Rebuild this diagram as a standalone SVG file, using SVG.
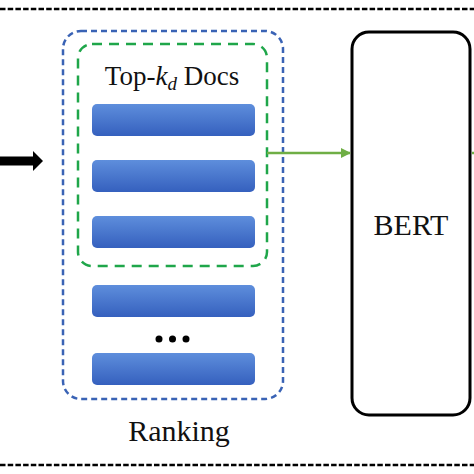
<svg xmlns="http://www.w3.org/2000/svg" width="474" height="474" viewBox="0 0 474 474">
<style>
.sep{stroke:#000;stroke-width:2.5;stroke-dasharray:5.5,2.2;fill:none}
.bar{fill:url(#bg)}
.lbl{font-family:"Liberation Serif",serif;fill:#111}
</style>
<defs>
<linearGradient id="bg" x1="0" y1="0" x2="0" y2="1">
<stop offset="0" stop-color="#5E8EDC"/>
<stop offset="1" stop-color="#3560BE"/>
</linearGradient>
<marker id="ga" markerWidth="10" markerHeight="10" refX="9" refY="5" orient="auto" markerUnits="userSpaceOnUse"><path d="M0,0 L10,5 L0,10 Z" fill="#6FAE45"/></marker>
</defs>
<rect width="474" height="474" fill="#fff"/>
<line class="sep" x1="0" y1="9" x2="474" y2="9"/>
<line class="sep" x1="0" y1="465" x2="474" y2="465"/>
<g id="ranking">
<rect x="63" y="31" width="220" height="368" rx="18" fill="none" stroke="#3A63B5" stroke-width="2.5" stroke-dasharray="6,4"/>
<text class="lbl" x="179" y="441" font-size="30" text-anchor="middle">Ranking</text>
</g>
<g id="topk">
<rect x="78" y="44" width="189" height="222" rx="14" fill="none" stroke="#1FA64A" stroke-width="2.5" stroke-dasharray="10,7"/>
<text class="lbl" x="172" y="85" font-size="27" text-anchor="middle">Top-<tspan font-style="italic">k</tspan><tspan font-style="italic" font-size="19" dy="5">d</tspan><tspan dy="-5"> Docs</tspan></text>
</g>
<g id="docs">
<rect class="bar" x="92" y="104" width="163" height="32" rx="5"/>
<rect class="bar" x="92" y="160" width="163" height="32" rx="5"/>
<rect class="bar" x="92" y="216" width="163" height="32" rx="5"/>
<rect class="bar" x="92" y="285" width="163" height="32" rx="5"/>
<rect class="bar" x="92" y="353" width="163" height="32" rx="5"/>
<circle cx="159" cy="339" r="3.5" fill="#000"/>
<circle cx="172.5" cy="339" r="3.5" fill="#000"/>
<circle cx="186" cy="339" r="3.5" fill="#000"/>
</g>
<g id="bert">
<rect x="352" y="32" width="118" height="383" rx="17" fill="#fff" stroke="#000" stroke-width="3"/>
<text class="lbl" x="411" y="235" font-size="30" text-anchor="middle">BERT</text>
</g>
<g id="connectors">
<line x1="0" y1="161" x2="34" y2="161" stroke="#000" stroke-width="9"/>
<path d="M33,151 L43,161 L33,171 Z" fill="#000"/>
<line x1="267" y1="153" x2="350" y2="153" stroke="#6FAE45" stroke-width="2.5" marker-end="url(#ga)"/>
<line x1="472" y1="153" x2="474" y2="153" stroke="#6FAE45" stroke-width="2.5"/>
</g>
</svg>
